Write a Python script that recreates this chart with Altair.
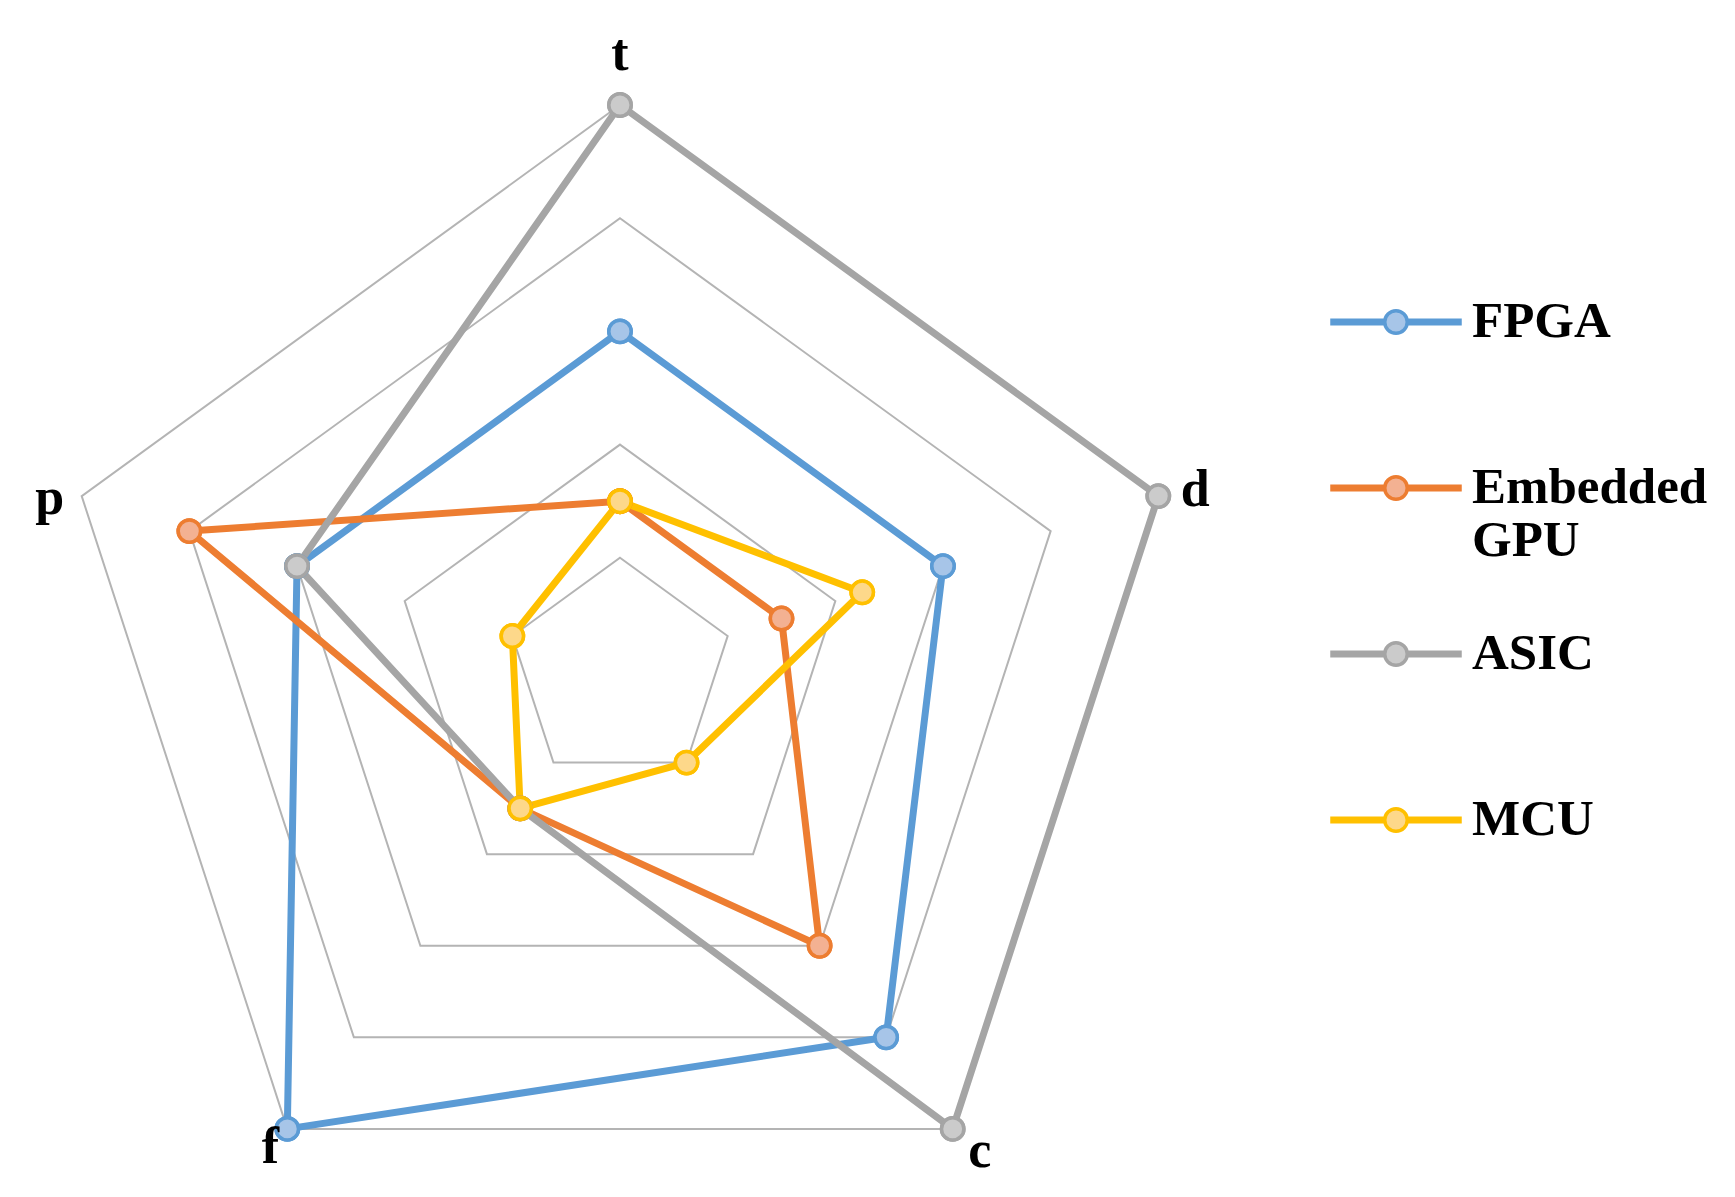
import altair as alt
import pandas as pd

# ---------------- data ----------------
axes = ["t", "d", "c", "f", "p"]
series_names = ["FPGA", "Embedded GPU", "ASIC", "MCU"]
fpga = [3, 3, 4, 5, 3]
embedded_gpu = [1.5, 1.5, 3, 1.5, 4]
asic = [5, 5, 5, 1.5, 3]
mcu = [1.5, 2.25, 1, 1.5, 1]
grid_levels = [1, 2, 3, 4, 5]

line_colors = ["#5B9BD5", "#ED7D31", "#A5A5A5", "#FFC000"]
fill_colors = ["#A7C5E8", "#F3B192", "#CBCBCB", "#FDD88A"]

# ---------------- layout constants ----------------
MAX_V = 5
R_PX = 566.0
UNIT = R_PX / MAX_V
CX, CY = 612.0, 663.0
W, H = 1230, 1170
# pixel offsets of each category label from the outer vertex of its axis
LABEL_OFFSETS = {
    "t": (0, -51),
    "d": (37, -6),
    "c": (27, 22),
    "f": (-17, 18),
    "p": (-32, 2),
}

xdom = [-CX / UNIT, (W - CX) / UNIT]
ydom = [-(H - CY) / UNIT, CY / UNIT]

values = {"FPGA": fpga, "Embedded GPU": embedded_gpu, "ASIC": asic, "MCU": mcu}
rows = []
for s in series_names:
    for i, a in enumerate(axes):
        rows.append({"series": s, "axis": a, "idx": i, "value": values[s][i]})
df = pd.DataFrame(rows)

grid_df = pd.DataFrame(
    [{"level": lv, "idx": i, "value": lv} for lv in grid_levels for i in range(len(axes))]
)
label_df = pd.DataFrame([{"axis": a, "idx": i, "value": MAX_V} for i, a in enumerate(axes)])

N = len(axes)
calc = dict(
    px=f"datum.value * sin(datum.idx * 2 * PI / {N})",
    py=f"datum.value * cos(datum.idx * 2 * PI / {N})",
)

X = alt.X("px:Q", scale=alt.Scale(domain=xdom, nice=False, zero=False), axis=None)
Y = alt.Y("py:Q", scale=alt.Scale(domain=ydom, nice=False, zero=False), axis=None)

# legend symbol: line with a circle in the middle
legend_path = (
    "M-1,-0.0273 L-0.18,-0.0273 L-0.18,0.0273 L-1,0.0273 Z "
    "M0.18,-0.0273 L1,-0.0273 L1,0.0273 L0.18,0.0273 Z "
    "M0.176,0 A0.176,0.176 0 1 1 -0.176,0 A0.176,0.176 0 1 1 0.176,0 Z"
)
legend = alt.Legend(
    title=None,
    orient="none",
    legendX=1322,
    legendY=248,
    symbolType=legend_path,
    symbolSize=16384,
    symbolStrokeWidth=3.5,
    labelFont="Liberation Serif",
    labelFontSize=51,
    labelFontWeight="bold",
    labelColor="black",
    labelOffset=10,
    labelLimit=0,
    labelExpr="split(datum.label, ' ')",
    rowPadding=22,
    gridAlign="all",
    padding=0,
)

stroke_enc = alt.Stroke(
    "series:N",
    scale=alt.Scale(domain=series_names, range=line_colors),
    legend=legend,
)
fill_enc = alt.Fill(
    "series:N",
    scale=alt.Scale(domain=series_names, range=fill_colors),
    legend=legend,
)

grid = (
    alt.Chart(grid_df)
    .transform_calculate(**calc)
    .mark_line(interpolate="linear-closed", stroke="#B4B4B4", strokeWidth=2)
    .encode(x=X, y=Y, detail="level:N", order="idx:Q")
)

points = (
    alt.Chart(df)
    .transform_calculate(**calc)
    .mark_point(shape="circle", size=500, strokeWidth=3.5, filled=True, opacity=1)
    .encode(x=X, y=Y, fill=fill_enc, stroke=stroke_enc)
)

lines = (
    alt.Chart(df)
    .transform_calculate(**calc)
    .mark_line(interpolate="linear-closed", strokeWidth=7, strokeJoin="round")
    .encode(x=X, y=Y, stroke=stroke_enc, order="idx:Q")
)

label_layers = []
for i, a in enumerate(axes):
    dx, dy = LABEL_OFFSETS[a]
    label_layers.append(
        alt.Chart(label_df)
        .transform_filter(f"datum.idx == {i}")
        .transform_calculate(**calc)
        .mark_text(
            font="Liberation Serif",
            fontWeight="bold",
            fontSize=52,
            baseline="middle",
            align="center",
            color="black",
            dx=dx,
            dy=dy,
        )
        .encode(x=X, y=Y, text="axis:N")
    )

chart = (
    alt.layer(grid, points, lines, points, *label_layers)
    .properties(width=W, height=H, padding=0, background="white")
    .configure_view(stroke=None)
)

chart.save("out.html", embed_options={"renderer": "svg", "actions": False})
